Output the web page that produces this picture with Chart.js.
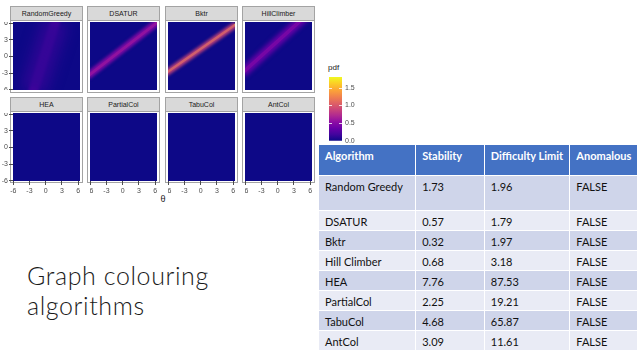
<!DOCTYPE html>
<html>
<head>
<meta charset="utf-8">
<script src="https://cdn.jsdelivr.net/npm/chart.js@4"></script>
<style>
  body { margin: 0; width: 638px; height: 359px; position: relative; background: #fff; overflow: hidden; font-family: "Liberation Sans", sans-serif; }
  .abs { position: absolute; }
  .box { position: absolute; box-sizing: border-box; border: 1px solid #a3a3a3; background: #fff; }
  .strip { position: absolute; left: 0; top: 0; right: 0; height: 13px; background: #d9d9d9; border-bottom: 1px solid #a3a3a3; font-size: 7px; line-height: 13px; text-align: center; color: #1a1a1a; }
  .title { left: 27px; font-family: "Lato", sans-serif; font-weight: 300; font-size: 25px; letter-spacing: 0.6px; line-height: 30px; height: 30px; color: #1a1a1a; white-space: nowrap; }
  #tbl { left: 318px; top: 144px; border-collapse: collapse; table-layout: fixed; font-family: "Lato", sans-serif; font-size: 11px; color: #111; }
  #tbl td, #tbl th { border: 1px solid #fff; padding: 4px 0 0 6px; vertical-align: top; text-align: left; white-space: nowrap; overflow: hidden; }
  #tbl th { background: #4472c4; color: #fff; font-weight: bold; height: 26px; }
  #tbl tr.dark td { background: #cfd5ea; }
  #tbl tr.light td { background: #e9ebf5; }
</style>
</head>
<body>
<div class="abs title" style="top:260px">Graph colouring</div>
<div class="abs title" style="top:290px">algorithms</div>
<table id="tbl" class="abs"></table>
<script>
// facet panels
const panelNames = ['RandomGreedy', 'DSATUR', 'Bktr', 'HillClimber', 'HEA', 'PartialCol', 'TabuCol', 'AntCol'];
// ridge of each density, two points [theta, y] beyond the panel edges (null = flat, pdf ~ 0)
const ridgeStart = [[-2.4, -6.5], [-6.5, -3.55], [-6.5, -3.06], [-6.5, -2.96], null, null, null, null];
const ridgeEnd = [[1.9, 6.5], [6.5, 6.21], [6.5, 5.76], [6.5, 8.43], null, null, null, null];
const ridgePeak = [0.25, 1.0, 1.8, 0.75, 0, 0, 0, 0];
const axisTicks = [-6, -3, 0, 3, 6];
const pdfTicks = [0, 0.5, 1, 1.5];
const pdfMax = 1.8;

// table
const algorithms = ['Random Greedy', 'DSATUR', 'Bktr', 'Hill Climber', 'HEA', 'PartialCol', 'TabuCol', 'AntCol'];
const stability = ['1.73', '0.57', '0.32', '0.68', '7.76', '2.25', '4.68', '3.09'];
const difficultyLimit = ['1.96', '1.79', '1.97', '3.18', '87.53', '19.21', '65.87', '11.61'];
const anomalous = ['FALSE', 'FALSE', 'FALSE', 'FALSE', 'FALSE', 'FALSE', 'FALSE', 'FALSE'];

// plasma colour map
const plasmaStops = ['#0d0887', '#41049d', '#6a00a8', '#8f0da4', '#b12a90', '#cc4778', '#e16462', '#f2844b', '#fca636', '#fcce25', '#f0f921'];
function hexRgb(h) { return [1, 3, 5].map(i => parseInt(h.substr(i, 2), 16)); }
function plasma(t, a = 1) {
  t = Math.max(0, Math.min(1, t)) * 10;
  const i = Math.min(9, Math.floor(t)), f = t - i;
  const c0 = hexRgb(plasmaStops[i]), c1 = hexRgb(plasmaStops[i + 1]);
  const c = c0.map((v, k) => Math.round(v + (c1[k] - v) * f));
  return `rgba(${c[0]},${c[1]},${c[2]},${a})`;
}

// soft ridge: a blurred halo and a sharper core (width and blur scale with ridgeWidth)
const glowLayers = [
  { w: 2.8, f: 0.5, a: 0.9, blur: 0.7 },
  { w: 1.0, f: 1.0, a: 1, blur: 0.2 }
];
const ridgeWidth = [9, 2.6, 2.2, 3.4, 0, 0, 0, 0];

const colLeft = [10, 87, 165, 242];
const rowTop = [6, 97];
const boxW = 73, boxH = 87, plotW = 67, plotH = 68;
const yAxisW = 13, xAxisH = 13;

const panelBg = {
  id: 'panelBg',
  beforeDatasetsDraw(chart) {
    const { ctx, chartArea: a } = chart;
    ctx.save();
    ctx.fillStyle = plasma(0);
    ctx.fillRect(a.left, a.top, a.right - a.left, a.bottom - a.top);
    ctx.restore();
  }
};

const ridgeBlur = {
  id: 'ridgeBlur',
  beforeDatasetDraw(chart, args) {
    const b = chart.data.datasets[args.index].blurPx;
    if (b) { chart.ctx.save(); chart.ctx.filter = `blur(${b}px)`; }
  },
  afterDatasetDraw(chart, args) {
    if (chart.data.datasets[args.index].blurPx) chart.ctx.restore();
  }
};

function axisOpts(show, horizontal) {
  return {
    type: 'linear',
    display: show,
    min: -6.05,
    max: horizontal ? 6.35 : 6.2,
    afterBuildTicks: s => { s.ticks = axisTicks.map(v => ({ value: v })); },
    afterFit: s => {
      if (!show) return;
      if (horizontal) s.height = xAxisH; else s.width = yAxisW;
      s.paddingTop = s.paddingBottom = s.paddingLeft = s.paddingRight = 0;
    },
    ticks: { font: { size: 7, family: 'Liberation Sans' }, color: '#4d4d4d', padding: horizontal ? 2 : 1, maxRotation: 0, autoSkip: false },
    grid: { drawOnChartArea: false, tickLength: 4, color: '#4d4d4d' },
    border: { display: false }
  };
}

panelNames.forEach((name, i) => {
  const c = i % 4, r = Math.floor(i / 4);
  const box = document.createElement('div');
  box.className = 'box';
  Object.assign(box.style, { left: colLeft[c] + 'px', top: rowTop[r] + 'px', width: boxW + 'px', height: (r ? boxH - 1 : boxH) + 'px' });
  const strip = document.createElement('div');
  strip.className = 'strip';
  strip.textContent = name;
  box.appendChild(strip);
  document.body.appendChild(box);

  const plotLeft = colLeft[c] + 3, plotTop = rowTop[r] + 16;
  const cw = plotW + (c === 0 ? yAxisW : 0), ch = plotH + (r === 1 ? xAxisH : 0);
  const canvas = document.createElement('canvas');
  canvas.width = cw; canvas.height = ch;
  canvas.className = 'abs';
  Object.assign(canvas.style, { left: (plotLeft - (c === 0 ? yAxisW : 0)) + 'px', top: plotTop + 'px', width: cw + 'px', height: ch + 'px' });
  document.body.appendChild(canvas);

  const datasets = [];
  if (ridgeStart[i]) {
    glowLayers.forEach(g => {
      datasets.push({
        data: [{ x: ridgeStart[i][0], y: ridgeStart[i][1] }, { x: ridgeEnd[i][0], y: ridgeEnd[i][1] }],
        borderColor: plasma(ridgePeak[i] * g.f / pdfMax, g.a),
        borderWidth: ridgeWidth[i] * g.w,
        borderCapStyle: 'butt',
        pointRadius: 0,
        clip: 0,
        blurPx: ridgeWidth[i] * g.blur
      });
    });
  }

  new Chart(canvas, {
    type: 'line',
    data: { datasets },
    options: {
      responsive: false,
      animation: false,
      devicePixelRatio: 1,
      layout: { padding: 0 },
      plugins: { legend: { display: false }, tooltip: { enabled: false } },
      scales: { x: axisOpts(r === 1, true), y: axisOpts(c === 0, false) }
    },
    plugins: [panelBg, ridgeBlur]
  });
});

// axis title
const theta = document.createElement('div');
theta.className = 'abs';
Object.assign(theta.style, { left: '158px', top: '194px', width: '10px', textAlign: 'center', fontSize: '9px', color: '#1a1a1a' });
theta.textContent = 'θ';
document.body.appendChild(theta);

// colour bar
const pdfTitle = document.createElement('div');
pdfTitle.className = 'abs';
Object.assign(pdfTitle.style, { left: '328px', top: '63px', fontSize: '8px', color: '#1a1a1a' });
pdfTitle.textContent = 'pdf';
document.body.appendChild(pdfTitle);

const cb = document.createElement('canvas');
cb.width = 35; cb.height = 70;
cb.className = 'abs';
Object.assign(cb.style, { left: '329px', top: '77px', width: '35px', height: '70px' });
document.body.appendChild(cb);

const barTicks = {
  id: 'barTicks',
  afterDatasetsDraw(chart) {
    const { ctx, chartArea: a, scales } = chart;
    ctx.save();
    ctx.strokeStyle = 'rgba(255,255,255,0.8)';
    ctx.lineWidth = 1;
    pdfTicks.forEach(v => {
      const y = Math.round(scales.y.getPixelForValue(v)) + 0.5;
      ctx.beginPath();
      ctx.moveTo(a.left, y); ctx.lineTo(a.left + 3, y);
      ctx.moveTo(a.right - 3, y); ctx.lineTo(a.right, y);
      ctx.stroke();
    });
    ctx.restore();
  }
};

new Chart(cb, {
  type: 'bar',
  data: {
    labels: ['pdf'],
    datasets: [{
      data: [pdfMax],
      barPercentage: 1,
      categoryPercentage: 1,
      borderWidth: 0,
      backgroundColor: ctx => {
        const a = ctx.chart.chartArea;
        if (!a) return plasma(0.5);
        const g = ctx.chart.ctx.createLinearGradient(0, a.bottom, 0, a.top);
        plasmaStops.forEach((s, k) => g.addColorStop(k / 10, s));
        return g;
      }
    }]
  },
  options: {
    responsive: false,
    animation: false,
    devicePixelRatio: 1,
    layout: { padding: { top: 0, bottom: 6, left: 0, right: 0 } },
    plugins: { legend: { display: false }, tooltip: { enabled: false } },
    scales: {
      x: { display: false },
      y: {
        position: 'right',
        min: 0,
        max: pdfMax,
        afterBuildTicks: s => { s.ticks = pdfTicks.map(v => ({ value: v })); },
        afterFit: s => { s.width = 22; s.paddingTop = s.paddingBottom = 0; },
        ticks: { font: { size: 7, family: 'Liberation Sans' }, color: '#4d4d4d', padding: 3, callback: v => v.toFixed(1) },
        grid: { drawOnChartArea: false, drawTicks: false },
        border: { display: false }
      }
    }
  },
  plugins: [barTicks]
});

// table
const tbl = document.getElementById('tbl');
const colW = [98, 70, 86, 68];
tbl.innerHTML = '<colgroup>' + colW.map(w => `<col style="width:${w}px">`).join('') + '</colgroup>' +
  '<tr><th>Algorithm</th><th>Stability</th><th>Difficulty Limit</th><th>Anomalous</th></tr>' +
  algorithms.map((a, k) => `<tr class="${k % 2 ? 'light' : 'dark'}"><td style="height:${k ? 15 : 30}px">${a}</td><td>${stability[k]}</td><td>${difficultyLimit[k]}</td><td>${anomalous[k]}</td></tr>`).join('');
</script>
</body>
</html>
